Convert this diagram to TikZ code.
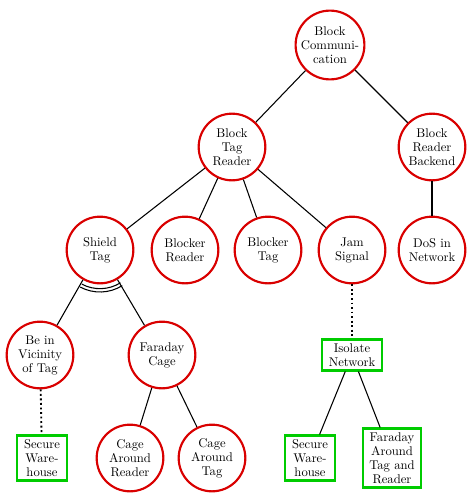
\documentclass[tikz,border=0pt]{standalone}
\begin{document}
\begin{tikzpicture}[x=0.75pt,y=-0.75pt,
  c/.style={circle,draw=red!85!black,line width=1.6pt,minimum size=50pt,inner sep=0pt,align=center,font=\fontsize{9.5}{10.5}\selectfont,fill=white},
  r/.style={rectangle,draw=green!80!black,line width=1.6pt,align=center,font=\fontsize{9.5}{10.5}\selectfont,inner xsep=5pt,inner ysep=3pt,fill=white},
  e/.style={line width=0.8pt},
  d/.style={line width=1.4pt,dotted}]
\useasboundingbox (0,0) rectangle (474,500);
\node[c] (bc) at (330,45) {Block\\Communi-\\cation};
\node[c] (btr) at (232,147) {Block\\Tag\\Reader};
\node[c] (brb) at (432,147) {Block\\Reader\\Backend};
\node[c] (st) at (100,250) {Shield\\Tag};
\node[c] (br) at (185,250) {Blocker\\Reader};
\node[c] (bt) at (268,250) {Blocker\\Tag};
\node[c] (js) at (352,250) {Jam\\Signal};
\node[c] (dos) at (432,250) {DoS in\\Network};
\node[c] (bv) at (40,355) {Be in\\Vicinity\\of Tag};
\node[c] (fc) at (162,355) {Faraday\\Cage};
\node[r] (in) at (352,355) {Isolate\\Network};
\node[r] (sw1) at (42,458) {Secure\\Ware-\\house};
\node[c] (car) at (130,458) {Cage\\Around\\Reader};
\node[c] (cat) at (212,458) {Cage\\Around\\Tag};
\node[r] (sw2) at (310,458) {Secure\\Ware-\\house};
\node[r] (fat) at (392,458) {Faraday\\Around\\Tag and\\Reader};
\draw[e] (bc) -- (btr); \draw[e] (bc) -- (brb);
\draw[e] (btr) -- (st); \draw[e] (btr) -- (br); \draw[e] (btr) -- (bt); \draw[e] (btr) -- (js);
\draw[e] (brb) -- (dos);
\draw[e] (st) -- (bv); \draw[e] (st) -- (fc);
\draw[d] (js) -- (in); \draw[d] (bv) -- (sw1);
\draw[e] (fc) -- (car); \draw[e] (fc) -- (cat);
\draw[e] (in) -- (sw2); \draw[e] (in) -- (fat);
\draw[e] ([shift={(-118:29pt)}]st.center) arc (-118:-58:29pt);
\draw[e] ([shift={(-118:31.5pt)}]st.center) arc (-118:-58:31.5pt);
\end{tikzpicture}
\end{document}
